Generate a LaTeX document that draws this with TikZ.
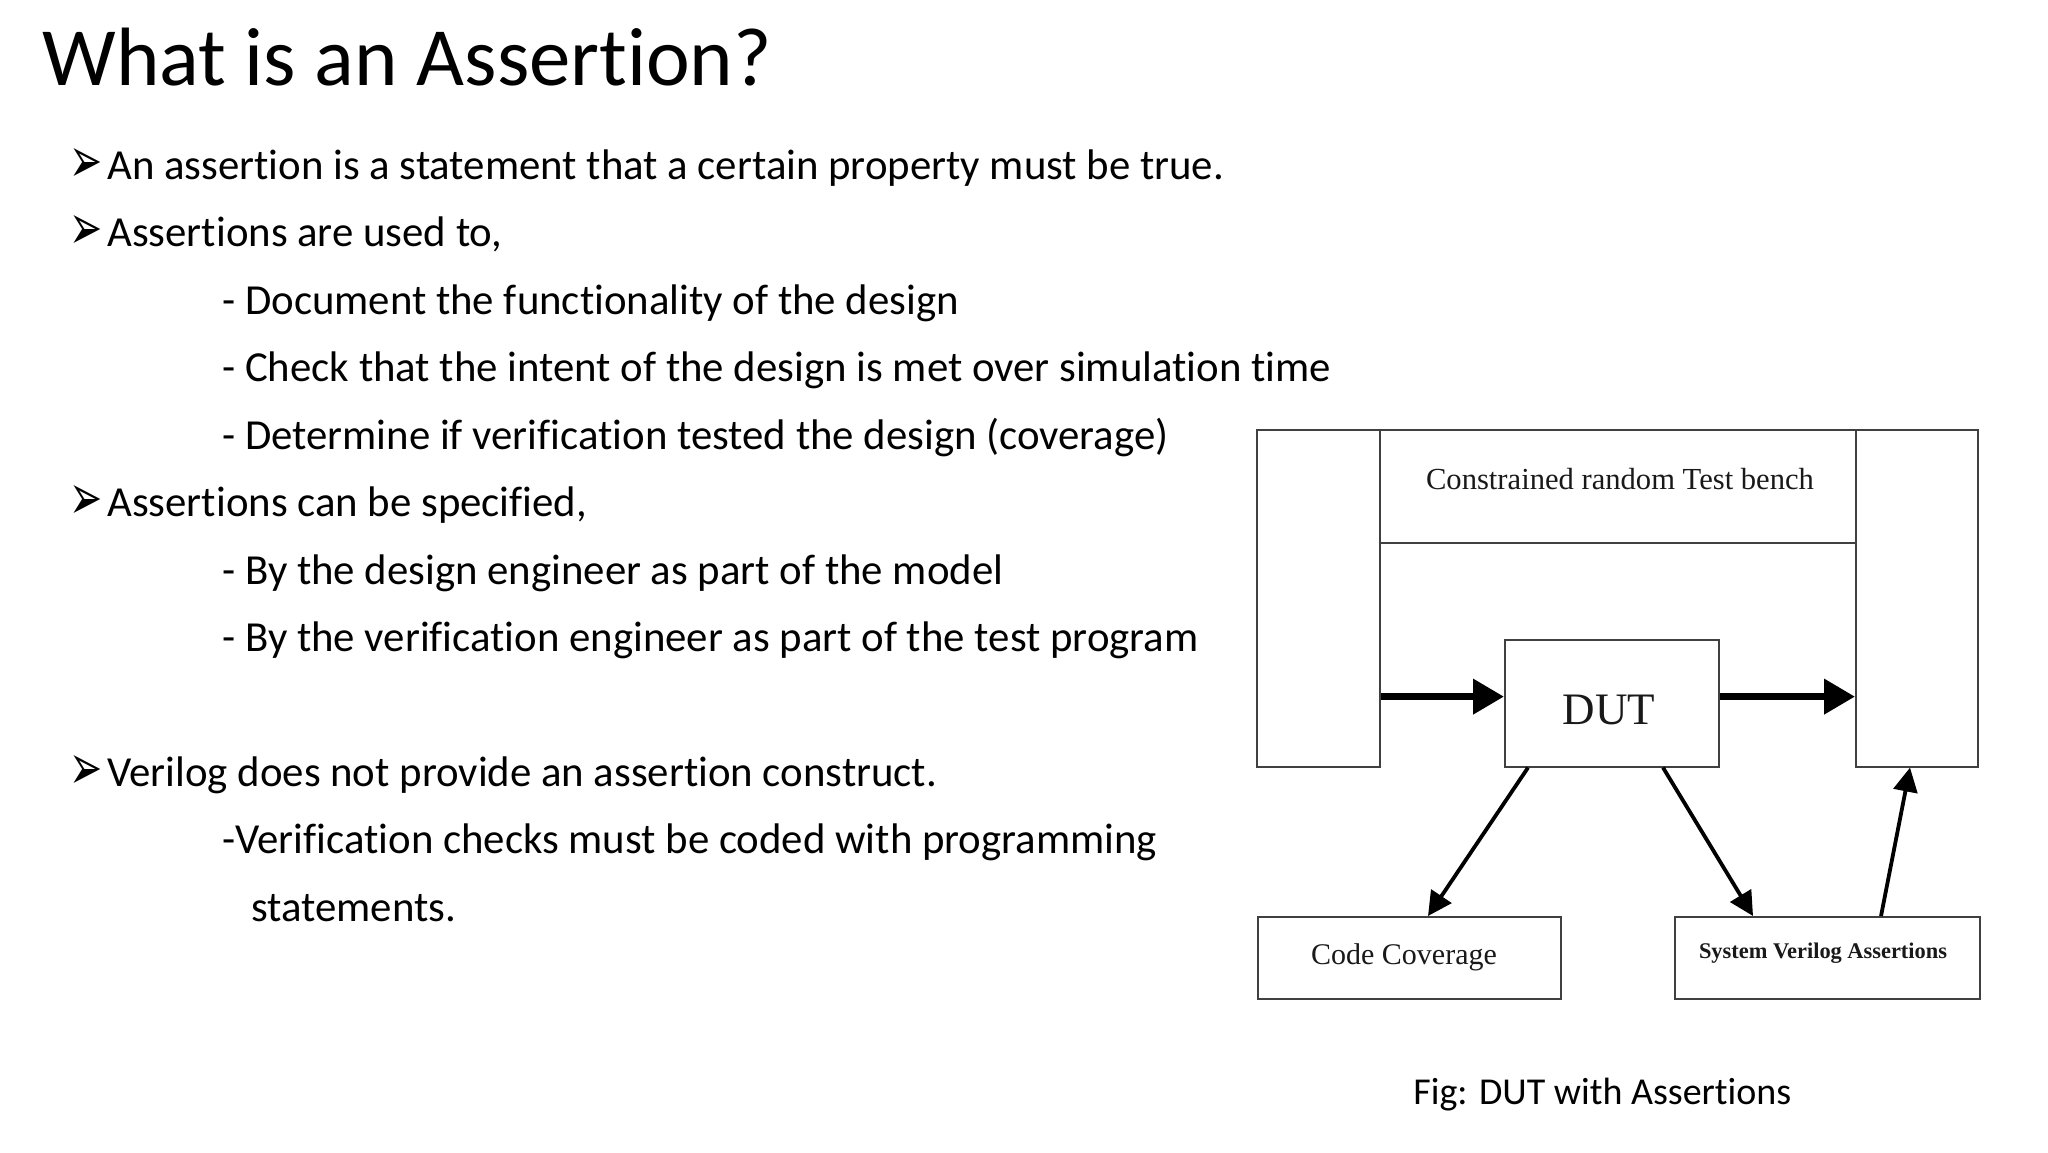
\documentclass[tikz,border=0pt]{standalone}
\usepackage{fontspec}
\setmainfont[Ligatures=NoCommon]{Carlito}
\newfontfamily\bulletfont{DejaVu Sans}
\newfontfamily\figfont{Liberation Serif}
\usetikzlibrary{arrows.meta}
\newcommand{\markglyph}{\scalebox{0.9}[1.45]{\bulletfont ➢}}
\tikzset{
  x=0.5pt, y=-0.5pt,
  titletext/.style={anchor=base west, inner sep=0pt, font=\fontsize{41.4}{48}\selectfont},
  bodytext/.style={anchor=base west, inner sep=0pt, font=\fontsize{21.4}{25}\selectfont},
  bullettext/.style={anchor=base west, inner sep=0pt, font=\fontsize{22}{26}\selectfont},
  captiontext/.style={anchor=base west, inner sep=0pt, font=\fontsize{19}{23}\selectfont},
  boxnode/.style={draw=black!75, line width=0.8pt, fill=white, rectangle, anchor=north west, inner sep=0pt},
  figlabel/.style={inner sep=0pt, text=black!90},
  heavyarrow/.style={-{Triangle[length=15.5pt,width=17pt]}, line width=3.6pt, black},
  slimarrow/.style={-{Triangle[length=12pt,width=12pt]}, line width=1.9pt, black}
}

\begin{document}
\begin{tikzpicture}
  \useasboundingbox (0,0) rectangle (2048,1152);
  \fill[white] (0,0) rectangle (2048,1152);

  \node[titletext] (title) at (42,85) {What is an Assertion?};

  \node[bullettext] (markA) at (69,182) {\markglyph};
  \node[bodytext] (lineA) at (107,179) {An assertion is a statement that a certain property must be true.};
  \node[bullettext] (markB) at (69,249) {\markglyph};
  \node[bodytext] (lineB) at (107,246) {Assertions are used to,};
  \node[bodytext] (lineC) at (222,314) {- Document the functionality of the design};
  \node[bodytext] (lineD) at (222,381) {- Check that the intent of the design is met over simulation time};
  \node[bodytext] (lineE) at (222,449) {- Determine if verification tested the design (coverage)};
  \node[bullettext] (markF) at (69,519) {\markglyph};
  \node[bodytext] (lineF) at (107,516) {Assertions can be specified,};
  \node[bodytext] (lineG) at (222,584) {- By the design engineer as part of the model};
  \node[bodytext] (lineH) at (222,651) {- By the verification engineer as part of the test program};
  \node[bullettext] (markI) at (69,789) {\markglyph};
  \node[bodytext] (lineI) at (107,786) {Verilog does not provide an assertion construct.};
  \node[bodytext] (lineJ) at (222,853) {-Verification checks must be coded with programming};
  \node[bodytext] (lineK) at (251,921) {statements.};

  \node[boxnode, minimum width=61.5pt, minimum height=168.5pt] (leftbox) at (1256,429) {};
  \node[boxnode, minimum width=61pt, minimum height=168.5pt] (rightbox) at (1855,429) {};
  \node[boxnode, minimum width=238pt, minimum height=56.5pt] (benchbox) at (1379,429) {};
  \node[boxnode, minimum width=107pt, minimum height=63.5pt] (dut) at (1504,639) {};
  \node[boxnode, minimum width=151.5pt, minimum height=41pt] (covbox) at (1257,916) {};
  \node[boxnode, minimum width=152.5pt, minimum height=41pt] (svabox) at (1674,916) {};

  \node[figlabel, font=\figfont\fontsize{15.3}{18}\selectfont] (benchlabel) at (1620,479) {Constrained random Test bench};
  \node[figlabel, font=\figfont\fontsize{22.5}{27}\selectfont] (dutlabel) at (1609,710) {DUT};
  \node[figlabel, font=\figfont\fontsize{15}{18}\selectfont] (covlabel) at (1404,957) {Code Coverage};
  \node[figlabel, font=\figfont\bfseries\fontsize{11.2}{14}\selectfont] (svalabel) at (1823,953) {System Verilog Assertions};

  \draw[heavyarrow] ([yshift=35.5pt]leftbox.south east) -- ([yshift=35.5pt]dut.south west);
  \draw[heavyarrow] ([yshift=35.5pt]dut.south east) -- ([yshift=35.5pt]rightbox.south west);
  \draw[slimarrow] ([xshift=12pt]dut.south west) -- ([xshift=85.5pt]covbox.north west);
  \draw[slimarrow] ([xshift=79.5pt]dut.south west) -- ([xshift=39.5pt]svabox.north west);
  \draw[slimarrow] ([xshift=103.5pt]svabox.north west) -- ([xshift=27.5pt]rightbox.south west);

  \node[captiontext] (caption) at (1413,1104) {Fig: DUT with Assertions};
\end{tikzpicture}
\end{document}
